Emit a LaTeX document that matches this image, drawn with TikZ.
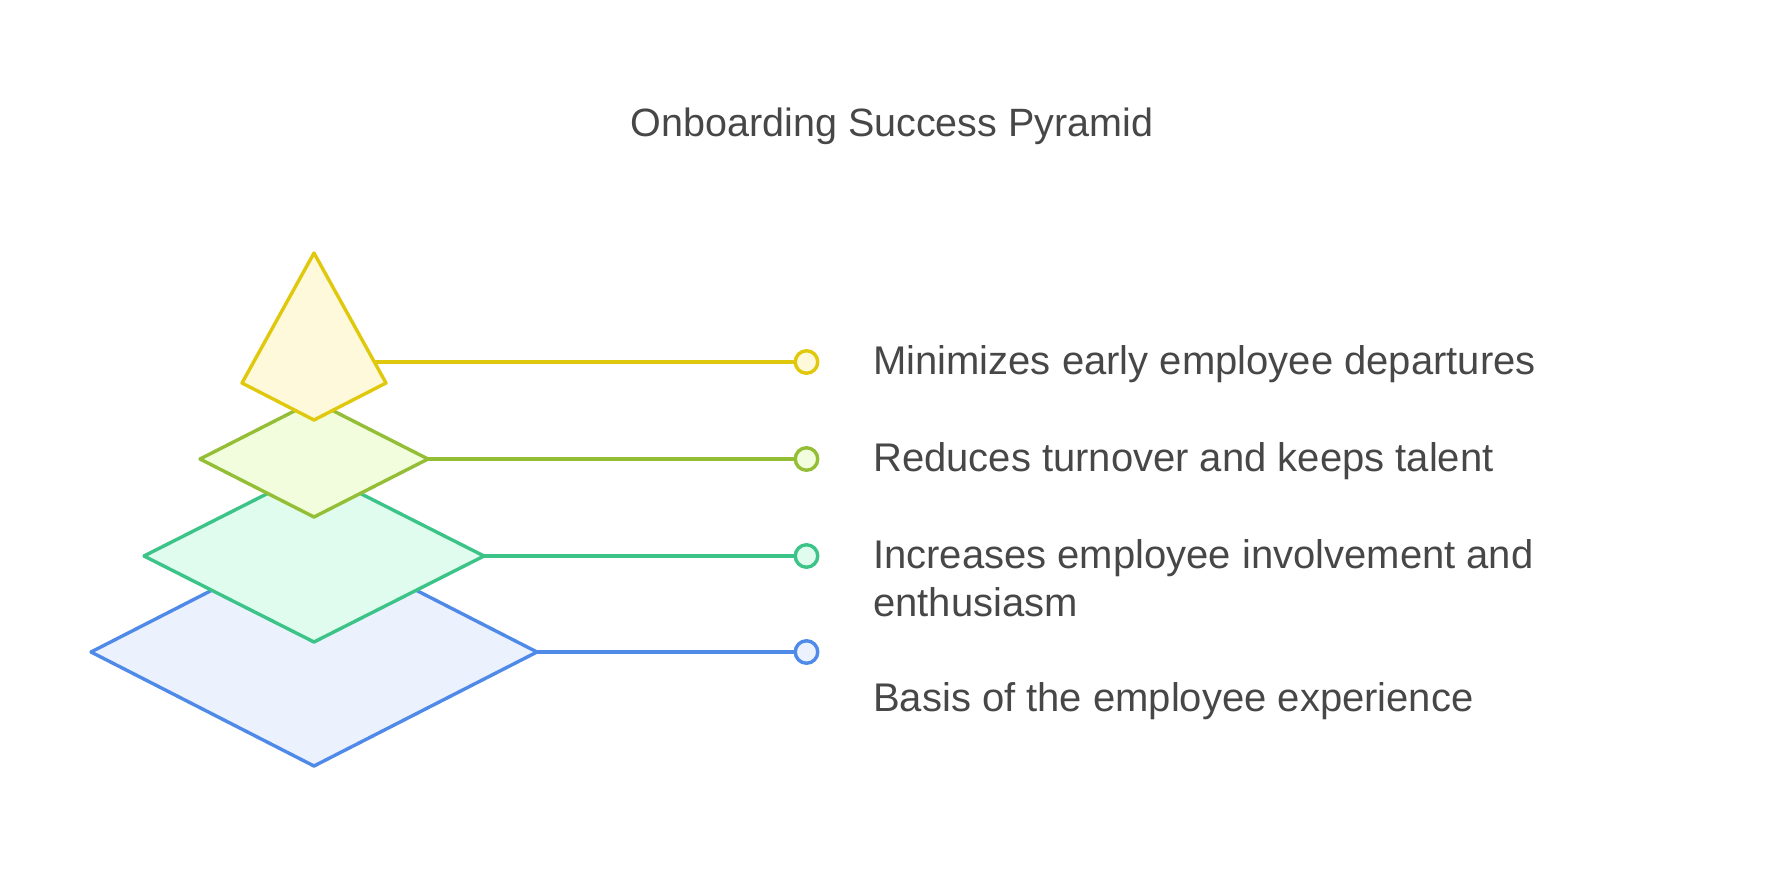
\documentclass[tikz,border=0pt]{standalone}
\usepackage{fontspec}
\setmainfont{Liberation Sans}
\definecolor{txtgray}{HTML}{474747}
\definecolor{yelline}{HTML}{E0C80C}
\definecolor{yelfill}{HTML}{FFF9DC}
\definecolor{limeline}{HTML}{93BE35}
\definecolor{limefill}{HTML}{F1FDDD}
\definecolor{tealline}{HTML}{3CC488}
\definecolor{tealfill}{HTML}{E0FCEF}
\definecolor{blueline}{HTML}{4F8AE8}
\definecolor{bluefill}{HTML}{EBF2FE}
% #1 name, #2 middle y, #3 half width, #4 half height, #5 style
\newcommand{\layerdiamond}[5]{
\coordinate (#1left) at ({314-#3},#2);
\coordinate (#1right) at ({314+#3},#2);
\coordinate (#1top) at (314,{#2-#4});
\coordinate (#1bottom) at (314,{#2+#4});
\draw[#5] (#1left) -- (#1top) -- (#1right) -- (#1bottom) -- cycle;
}
\begin{document}
\begin{tikzpicture}[x=1pt, y=-1pt,
% pyramid layers
pyrlayer/.style={line width=3.4pt, line join=round},
baselayer/.style={pyrlayer, draw=blueline, fill=bluefill},
midlayer/.style={pyrlayer, draw=tealline, fill=tealfill},
uplayer/.style={pyrlayer, draw=limeline, fill=limefill},
toplayer/.style={pyrlayer, draw=yelline, fill=yelfill},
% connectors and their end dots
link/.style={line width=3.4pt},
enddot/.style={circle, line width=3.4pt, minimum size=22.5pt, inner sep=0},
% texts
itemtext/.style={anchor=base west, text=txtgray, font=\fontsize{40}{48}\selectfont, align=left, inner sep=0}
]

\useasboundingbox (0,0) rectangle (1780,892);

% title
\node[itemtext, anchor=base, font=\fontsize{39.5}{48}\selectfont] (title) at (892,136) {Onboarding Success Pyramid};

% end dots
\node[enddot, draw=yelline, fill=yelfill] (topdot) at (806.5,362) {};
\node[enddot, draw=limeline, fill=limefill] (updot) at (806.5,459) {};
\node[enddot, draw=tealline, fill=tealfill] (middot) at (806.5,556) {};
\node[enddot, draw=blueline, fill=bluefill] (basedot) at (806.5,652) {};

% pyramid, from the bottom up
\layerdiamond{base}{652}{223}{114}{baselayer}
\layerdiamond{mid}{556}{170}{86}{midlayer}
\layerdiamond{up}{459}{114}{58}{uplayer}

% top piece
\coordinate (topapex) at (314,253);
\coordinate (topright) at (386,383);
\coordinate (topbottom) at (314,420);
\coordinate (topleft) at (242,383);
\coordinate (topedge) at (374.5,362);
\draw[toplayer] (topapex) -- (topright) -- (topbottom) -- (topleft) -- cycle;

% connectors
\draw[link, yelline] (topedge) -- (topdot);
\draw[link, limeline] (upright) -- (updot);
\draw[link, tealline] (midright) -- (middot);
\draw[link, blueline] (baseright) -- (basedot);

% texts
\node[itemtext] (toptext) at (873,374) {Minimizes early employee departures};
\node[itemtext] (uptext) at (873,471) {Reduces turnover and keeps talent};
\node[itemtext] (midtext) at (873,616) {Increases employee involvement and\\enthusiasm};
\node[itemtext] (basetext) at (873,711) {Basis of the employee experience};

\end{tikzpicture}
\end{document}
